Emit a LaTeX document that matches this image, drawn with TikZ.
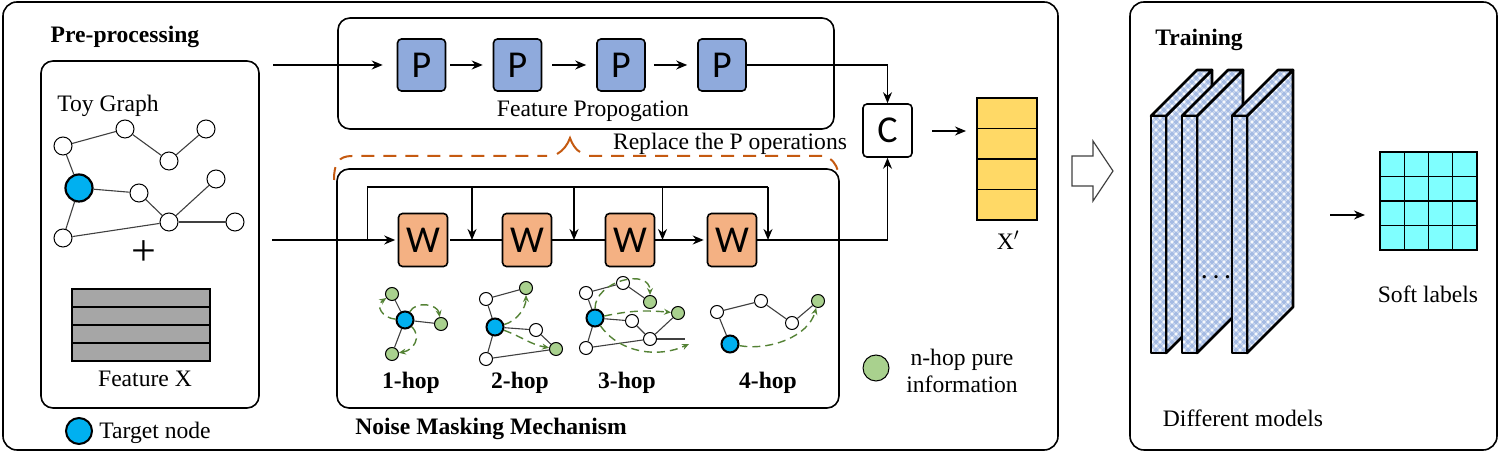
\documentclass[tikz,border=0pt]{standalone}
\usepackage{fontspec}
\setmainfont{Liberation Serif}
\setsansfont{Carlito}
\usetikzlibrary{arrows.meta, patterns}
\definecolor{pblue}{HTML}{8FAADC}
\definecolor{worange}{HTML}{F4B183}
\definecolor{tblue}{HTML}{00B0F0}
\definecolor{hgreen}{HTML}{A9D18E}
\definecolor{dgreen}{HTML}{548235}
\definecolor{xyellow}{HTML}{FFD966}
\definecolor{scyan}{HTML}{7FFFFF}
\definecolor{brorange}{HTML}{C55A11}
\definecolor{mblue}{HTML}{8FAADC}
\pgfdeclarepatternformonly{mscales}{\pgfqpoint{-1pt}{-1pt}}{\pgfqpoint{9pt}{9pt}}{\pgfqpoint{8pt}{8pt}}{
  \pgfsetlinewidth{1pt}
  \pgfpathcircle{\pgfqpoint{0pt}{0pt}}{4pt}
  \pgfpathcircle{\pgfqpoint{8pt}{0pt}}{4pt}
  \pgfpathcircle{\pgfqpoint{0pt}{8pt}}{4pt}
  \pgfpathcircle{\pgfqpoint{8pt}{8pt}}{4pt}
  \pgfpathcircle{\pgfqpoint{4pt}{4pt}}{4pt}
  \pgfusepath{stroke}
}
\tikzset{
        txt/.style={font=\fontsize{23.6}{27}\selectfont, inner sep=0pt, align=center},
        btxt/.style={font=\fontsize{23.6}{27}\selectfont\bfseries, inner sep=0pt},
        frame/.style={draw, line width=1.6pt, rounded corners=12pt},
        opbox/.style={draw, line width=1.6pt, rounded corners=4pt, minimum width=49pt,
                      minimum height=53pt, inner sep=0pt,
                      font=\fontsize{38}{38}\selectfont\sffamily},
        pbox/.style={opbox, fill=pblue},
        wbox/.style={opbox, fill=worange},
        myarrow/.style={-{Stealth[length=11pt,width=9pt]}, line width=1.3pt},
        myline/.style={line width=1.3pt},
        gnode/.style={circle, draw, fill=white, line width=1pt, minimum size=#1, inner sep=0pt},
        gnode/.default=18pt,
        hnode/.style={gnode=13pt},
        gnodeg/.style={gnode=13pt, fill=hgreen},
        tnode/.style={circle, draw, fill=tblue, line width=2pt, minimum size=#1, inner sep=0pt},
        tnode/.default=17pt,
        edge/.style={line width=1.1pt, black!75},
        hop/.style={-{Stealth[length=7pt,width=6pt]}, dgreen, line width=1.4pt,
                    dash pattern=on 8pt off 5pt},
        model/.style={line width=2.6pt, preaction={fill=white}, pattern=mscales,
                      pattern color=mblue!80, line join=round},
 }

\begin{document}
\begin{tikzpicture}[x=1pt, y=1pt]
    \useasboundingbox (0,0) rectangle (1502,454);

    % outer frames
    \draw[frame, rounded corners=14pt] (3,4) rectangle (1058,452);
    \draw[frame, rounded corners=14pt] (1130,4) rectangle (1497,452);
    \draw[frame] (41,46) rectangle (259,393);
    \draw[frame] (338,325) rectangle (834,436);
    \draw[frame] (337,46) rectangle (839,285);

    \node[btxt] (preproc) at (125,417) {Pre-processing};
    \node[txt] (toylabel) at (108,348) {Toy Graph};

    % toy graph
    \node[gnode] (a) at (63,308) {};
    \node[gnode] (b) at (125,325) {};
    \node[gnode] (c) at (169,293) {};
    \node[gnode] (d) at (206,325) {};
    \node[tnode=27pt, line width=2.2pt] (t) at (79,266) {};
    \node[gnode] (e) at (139,261) {};
    \node[gnode] (f) at (169,232) {};
    \node[gnode] (g) at (216,275) {};
    \node[gnode] (h) at (235,232) {};
    \node[gnode] (i) at (63,216) {};
    \draw[edge] (a) -- (b);
    \draw[edge] (b) -- (c);
    \draw[edge] (c) -- (d);
    \draw[edge] (a) -- (t);
    \draw[edge] (t) -- (e);
    \draw[edge] (e) -- (f);
    \draw[edge] (f) -- (g);
    \draw[edge] (f) -- (h);
    \draw[edge] (t) -- (i);
    \draw[edge] (i) -- (f);

    \node[txt, font=\fontsize{44}{44}\selectfont] (plus) at (144,201) {+};

    % feature table
    \draw[fill=black!35, line width=1.2pt] (72,93) rectangle (210,165);
    \foreach \ry in {111,129,147}
        \draw[line width=1.2pt] (72,\ry) -- (210,\ry);
    \node[txt] (featx) at (145,75) {Feature X};

    \node[tnode=26pt] (tlegend) at (79,23) {};
    \node[txt] (tlabel) at (155,21) {Target node};

    % feature propagation
    \coordinate (pin) at (273,389);
    \node[pbox, minimum width=48pt, minimum height=52pt] (p1) at (421.5,389) {P};
    \node[pbox, minimum width=48pt, minimum height=52pt] (p2) at (517.5,389) {P};
    \node[pbox, minimum width=48pt, minimum height=52pt] (p3) at (621,389) {P};
    \node[pbox, minimum width=48pt, minimum height=52pt] (p4) at (722,389) {P};
    \node[txt] (fplabel) at (593,343) {Feature Propogation};
    \node[opbox] (cc) at (887.5,323.5) {C};
    \draw[myarrow, shorten >=14pt] (pin) -- (p1);
    \draw[myarrow, shorten <=4pt, shorten >=10pt] (p1) -- (p2);
    \draw[myarrow, shorten <=10pt, shorten >=10pt] (p2) -- (p3);
    \draw[myarrow, shorten <=8pt, shorten >=10pt] (p3) -- (p4);
    \draw[myarrow] (p4) -| (cc);

    % replace brace
    \draw[brorange, line width=2pt, dash pattern=on 13pt off 9pt]
         (334,274) .. controls (334,290) and (338,298) .. (352,298) -- (547,298);
    \draw[brorange, line width=2pt] (557,300) .. controls (563,303) and (568,310) .. (570,316)
         .. controls (572,310) and (576,304) .. (580,302);
    \draw[brorange, line width=2pt, dash pattern=on 13pt off 9pt]
         (589,298) -- (823,298) .. controls (832,296) and (836,290) .. (838,283);
    \node[txt] (repl) at (730,310) {Replace the P operations};

    % noise masking
    \coordinate (win) at (272,214);
    \coordinate (fbl) at (367.5,214);
    \coordinate (fbt) at (367.5,267);
    \coordinate (fbr) at (768,267);
    \coordinate (fbe) at (768,214);
    \node[wbox] (w1) at (423,214) {W};
    \node[wbox] (w2) at (527,214) {W};
    \node[wbox] (w3) at (630,214) {W};
    \node[wbox] (w4) at (732,214) {W};
    \coordinate (d1t) at (472,267);
    \coordinate (d1b) at (472,214);
    \coordinate (d2t) at (574,267);
    \coordinate (d2b) at (574,214);
    \coordinate (d3t) at (662.5,267);
    \coordinate (d3b) at (662.5,214);
    \draw[myarrow, shorten >=2.5pt] (win) -- (w1);
    \draw[myline] (fbl) -- (fbt) -- (fbr);
    \draw[myline, shorten <=2pt] (w1) -- (w2);
    \draw[myline] (w2) -- (w3);
    \draw[myarrow, shorten >=3pt] (w3) -- (w4);
    \draw[myarrow] (d1t) -- (d1b);
    \draw[myarrow] (d2t) -- (d2b);
    \draw[myarrow] (d3t) -- (d3b);
    \draw[myarrow] (fbr) -- (fbe);
    \draw[myarrow] (w4) -| (cc);

    % 1-hop
    \node[tnode] (t1) at (405,134) {};
    \node[gnodeg] (n1a) at (392,160) {};
    \node[gnodeg] (n1b) at (441,130) {};
    \node[gnodeg] (n1c) at (392,100) {};
    \draw[edge] (t1) -- (n1a);
    \draw[edge] (t1) -- (n1b);
    \draw[edge] (t1) -- (n1c);
    \draw[hop] (t1) to[out=175, in=215, looseness=1.5] (n1a);
    \draw[hop] (t1) to[out=60, in=100, looseness=1.1] (n1b);
    \draw[hop] (t1) to[out=-45, in=10, looseness=1.3] (n1c);

    % 2-hop
    \node[hnode] (a2) at (486,155) {};
    \node[gnodeg] (b2) at (526,166) {};
    \node[tnode] (t2) at (495,127) {};
    \node[hnode] (e2) at (536,124) {};
    \node[gnodeg] (f2) at (556,105) {};
    \node[hnode] (i2) at (486,95) {};
    \draw[edge] (a2) -- (b2);
    \draw[edge] (a2) -- (t2);
    \draw[edge] (t2) -- (e2);
    \draw[edge] (e2) -- (f2);
    \draw[edge] (t2) -- (i2);
    \draw[edge] (i2) -- (f2);
    \draw[hop] (t2) to[out=15, in=-90, looseness=0.9] (b2);
    \draw[hop] (t2) to[out=-20, in=170] (f2);

    % 3-hop
    \node[hnode] (a3) at (586,161) {};
    \node[hnode] (b3) at (623,171) {};
    \node[gnodeg] (c3) at (650,152) {};
    \node[tnode] (t3) at (595,136) {};
    \node[hnode] (e3) at (632,133) {};
    \node[hnode] (f3) at (650,115) {};
    \node[gnodeg] (g3) at (678,141) {};
    \coordinate (end3) at (685,115);
    \coordinate (far3) at (689,110);
    \node[hnode] (i3) at (586,106) {};
    \draw[edge] (a3) -- (b3);
    \draw[edge] (b3) -- (c3);
    \draw[edge] (a3) -- (t3);
    \draw[edge] (t3) -- (e3);
    \draw[edge] (e3) -- (f3);
    \draw[edge] (f3) -- (g3);
    \draw[edge] (f3) -- (end3);
    \draw[edge] (t3) -- (i3);
    \draw[edge] (i3) -- (f3);
    \draw[hop] (t3) to[out=90, in=90, looseness=1.25] (c3);
    \draw[hop] (t3) to[out=12, in=175] (g3);
    \draw[hop] (t3) to[out=-55, in=205, looseness=0.95] (far3);

    % 4-hop
    \node[hnode] (a4) at (717,142) {};
    \node[hnode] (b4) at (761,153) {};
    \node[hnode] (c4) at (792,131) {};
    \node[gnodeg] (d4) at (818,153) {};
    \node[tnode] (t4) at (730,110) {};
    \draw[edge] (a4) -- (b4);
    \draw[edge] (b4) -- (c4);
    \draw[edge] (c4) -- (d4);
    \draw[edge] (a4) -- (t4);
    \draw[hop] (t4) to[out=-10, in=-105, looseness=0.9] (d4);

    \node[btxt] (h1) at (411,71) {1-hop};
    \node[btxt] (h2) at (520,71) {2-hop};
    \node[btxt] (h3) at (627,71) {3-hop};
    \node[btxt] (h4) at (768,71) {4-hop};
    \node[btxt] (nmm) at (491,25) {Noise Masking Mechanism};

    \node[gnode=26pt, fill=hgreen] (nlegend) at (876,86) {};
    \node[txt] (nlabel) at (962,83) {n-hop pure\\information};

    % concatenated table
    \coordinate (xin) at (932,323);
    \coordinate (xend) at (966,323);
    \draw[myarrow] (xin) -- (xend);
    \draw[fill=xyellow, line width=1.2pt] (977,234) rectangle (1037,356);
    \foreach \ry in {264.5,295,325.5}
        \draw[line width=1.2pt] (977,\ry) -- (1037,\ry);
    \node[txt] (xprime) at (1008,214) {X$'$};

    % block arrow
    \draw[line width=1.2pt, black!75, fill=white] (1072,268) -- (1093,268) -- (1093,253)
         -- (1113,283) -- (1093,313) -- (1093,298) -- (1072,298) -- cycle;

    % training
    \node[btxt] (train) at (1199,414) {Training};
    \foreach \mx in {1151,1182,1232}{
        \begin{scope}[xshift=\mx pt]
            \draw[model] (15,101) -- ++(46,46) -- ++(0,237) -- (15,338) -- cycle;
            \draw[model] (0,338) -- ++(46,46) -- ++(15,0) -- (15,338) -- cycle;
            \draw[model] (0,101) rectangle (15,338);
        \end{scope}
    }
    \node[txt, font=\fontsize{20}{24}\selectfont\bfseries] (mdots) at (1216,177) {.\,\,.\,\,.};
    \node[txt] (mlabel) at (1243,36) {Different models};

    \coordinate (sin) at (1330,239);
    \coordinate (send) at (1365,239);
    \draw[myarrow] (sin) -- (send);
    \draw[fill=scyan, line width=1.2pt] (1380,204) rectangle (1477,302);
    \foreach \ss in {0.25,0.5,0.75}{
        \draw[line width=1.2pt] (1380+97*\ss,204) -- (1380+97*\ss,302);
        \draw[line width=1.2pt] (1380,204+98*\ss) -- (1477,204+98*\ss);
    }
    \node[txt] (slabel) at (1428,160) {Soft labels};
\end{tikzpicture}
\end{document}
